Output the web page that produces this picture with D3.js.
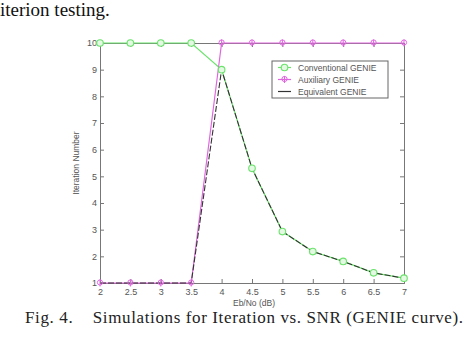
<!DOCTYPE html>
<html>
<head>
<meta charset="utf-8">
<script src="https://cdn.jsdelivr.net/npm/d3@7"></script>
<style>
  body { margin: 0; background: #fff; }
  svg { display: block; }
</style>
</head>
<body>
<svg id="chart" width="474" height="355"></svg>
<script>
// data
const snr = [2, 2.5, 3, 3.5, 4, 4.5, 5, 5.5, 6, 6.5, 7];
const conventional = [10, 10, 10, 10, 9, 5.3, 2.93, 2.18, 1.81, 1.38, 1.18];
const auxiliary = [1, 1, 1, 1, 10, 10, 10, 10, 10, 10, 10];
const equivalent = [1, 1, 1, 1, 9, 5.3, 2.93, 2.18, 1.81, 1.38, 1.18];
const xTicks = [2, 2.5, 3, 3.5, 4, 4.5, 5, 5.5, 6, 6.5, 7];
const yTicks = [1, 2, 3, 4, 5, 6, 7, 8, 9, 10];
const legendNames = ["Conventional GENIE", "Auxiliary GENIE", "Equivalent GENIE"];

const green = "#6be36b", magenta = "#e066e0", dark = "#333";
const margin = { top: 43, right: 70, bottom: 72, left: 100 };
const width = 474, height = 355;

const svg = d3.select("#chart");

// text cut off from the page above
svg.append("text")
   .attr("x", 0).attr("y", 16)
   .style("font-family", "'Liberation Serif', 'Times New Roman', serif")
   .style("font-size", "19px")
   .attr("fill", "#111")
   .text("iterion testing.");

const x = d3.scaleLinear().domain([2, 7]).range([margin.left, width - margin.right]);
const y = d3.scaleLinear().domain([1, 10]).range([height - margin.bottom, margin.top]);

// axes (ticks pointing inward, box around the plot)
const axisStyle = g => {
    g.select(".domain").attr("stroke", "#777");
    g.selectAll(".tick line").attr("stroke", "#777");
    g.selectAll(".tick text").attr("fill", "#555")
     .style("font-family", "'Liberation Sans', Arial, sans-serif").style("font-size", "9px");
};

svg.append("g")
   .attr("transform", `translate(0,${y(1)})`)
   .call(d3.axisBottom(x).tickValues(xTicks).tickSize(-4).tickPadding(6).tickFormat(d3.format("")))
   .call(axisStyle);

svg.append("g")
   .attr("transform", `translate(0,${y(10)})`)
   .call(d3.axisTop(x).tickValues(xTicks).tickSize(-4).tickFormat(""))
   .call(axisStyle);

svg.append("g")
   .attr("transform", `translate(${x(2)},0)`)
   .call(d3.axisLeft(y).tickValues(yTicks).tickSize(-4).tickPadding(3))
   .call(axisStyle);

svg.append("g")
   .attr("transform", `translate(${x(7)},0)`)
   .call(d3.axisRight(y).tickValues(yTicks).tickSize(-4).tickFormat(""))
   .call(axisStyle);

// axis labels
svg.append("text")
   .attr("x", (x(2) + x(7)) / 2 + 2).attr("y", 306)
   .attr("text-anchor", "middle")
   .attr("fill", "#555")
   .style("font-family", "'Liberation Sans', Arial, sans-serif").style("font-size", "8.5px")
   .text("Eb/No (dB)");

svg.append("text")
   .attr("transform", `translate(79,${(y(1) + y(10)) / 2}) rotate(-90)`)
   .attr("text-anchor", "middle")
   .attr("fill", "#555")
   .style("font-family", "'Liberation Sans', Arial, sans-serif").style("font-size", "8.5px")
   .text("Iteration Number");

const line = d3.line().x(d => x(d[0])).y(d => y(d[1]));

// conventional GENIE
svg.append("path")
   .datum(snr.map((s, i) => [s, conventional[i]]))
   .attr("d", line).attr("fill", "none").attr("stroke", green).attr("stroke-width", 1.2);

// auxiliary GENIE
svg.append("path")
   .datum(snr.map((s, i) => [s, auxiliary[i]]))
   .attr("d", line).attr("fill", "none").attr("stroke", magenta).attr("stroke-width", 1.2);

// equivalent GENIE
svg.append("path")
   .datum(snr.map((s, i) => [s, equivalent[i]]))
   .attr("d", line).attr("fill", "none").attr("stroke", dark).attr("stroke-width", 1.1)
   .attr("stroke-dasharray", "6,2");

function greenMarker(g, cx, cy) {
    g.append("circle").attr("cx", cx).attr("cy", cy).attr("r", 3.3)
     .attr("fill", "#e4f8e4").attr("stroke", green).attr("stroke-width", 1.1);
}
function magentaMarker(g, cx, cy) {
    g.append("circle").attr("cx", cx).attr("cy", cy - 0.5).attr("r", 2.6)
     .attr("fill", "none").attr("stroke", magenta).attr("stroke-width", 1);
    g.append("line").attr("x1", cx).attr("x2", cx).attr("y1", cy - 3.5).attr("y2", cy + 3.5)
     .attr("stroke", magenta).attr("stroke-width", 1);
}

const markers = svg.append("g");
snr.forEach((s, i) => greenMarker(markers, x(s), y(conventional[i])));
snr.forEach((s, i) => magentaMarker(markers, x(s), y(auxiliary[i])));

// legend
const lg = svg.append("g").attr("transform", "translate(272,61)");
lg.append("rect").attr("width", 116).attr("height", 37)
  .attr("fill", "#fff").attr("stroke", "#666").attr("stroke-width", 1);
legendNames.forEach((name, i) => {
    const ly = 6.5 + i * 12;
    const col = [green, magenta, dark][i];
    lg.append("line").attr("x1", 6).attr("x2", 19).attr("y1", ly).attr("y2", ly)
      .attr("stroke", col).attr("stroke-width", 1.2);
    if (i === 0) greenMarker(lg, 12.5, ly);
    if (i === 1) magentaMarker(lg, 12.5, ly);
    lg.append("text").attr("x", 26).attr("y", ly + 3)
      .attr("fill", "#555")
      .style("font-family", "'Liberation Sans', Arial, sans-serif").style("font-size", "8.5px")
      .text(name);
});

// figure caption
svg.append("text")
   .attr("x", 25).attr("y", 323)
   .style("font-family", "'Liberation Serif', 'Times New Roman', serif")
   .style("font-size", "17px")
   .attr("fill", "#222")
   .attr("xml:space", "preserve")
   .style("white-space", "pre")
   .attr("textLength", 438)
   .attr("lengthAdjust", "spacing")
   .text("Fig. 4.    Simulations for Iteration vs. SNR (GENIE curve).");
</script>
</body>
</html>
